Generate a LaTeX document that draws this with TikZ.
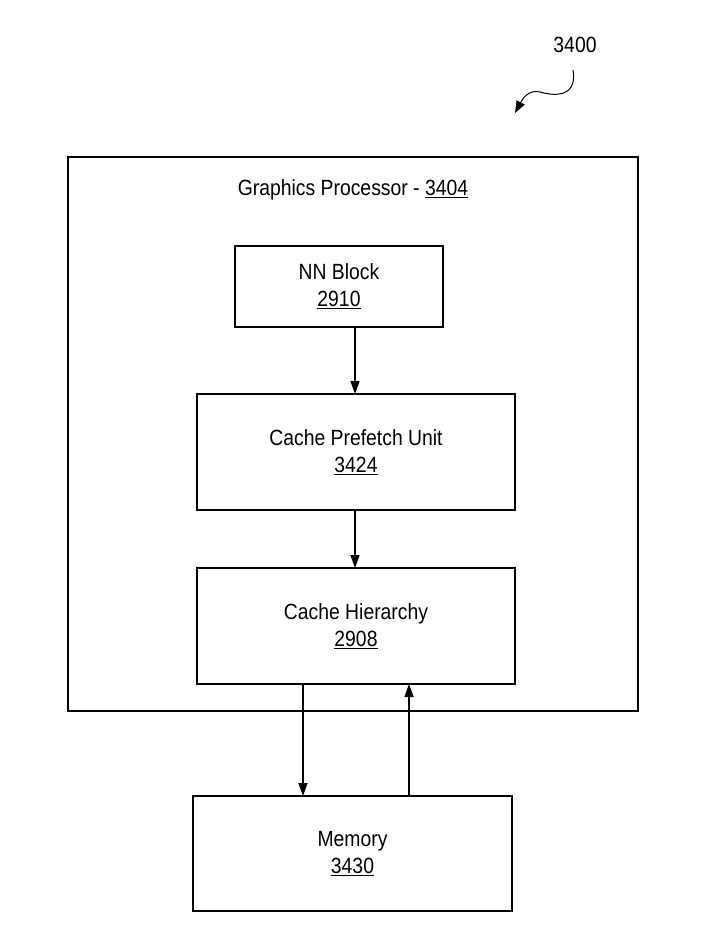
\documentclass[tikz,border=0pt]{standalone}
\usepackage{fontspec}
\setmainfont{Liberation Sans}[FakeStretch=0.88]
\usetikzlibrary{arrows.meta}
\begin{document}
\begin{tikzpicture}[x=1pt,y=-1pt,
  box/.style={draw,line width=1.3pt,inner sep=0pt,align=center,font=\fontsize{22}{27}\selectfont},
  arr/.style={line width=1.3pt,-{Triangle[length=13pt,width=9pt]}}]
\useasboundingbox (0,0) rectangle (701,937);
\node[draw,line width=1.3pt,minimum width=570pt,minimum height=554pt,inner sep=0pt] (gp) at (353,434) {};
\node[font=\fontsize{22}{27}\selectfont] (gpl) at (353,190) {Graphics Processor - \underline{3404}};
\node[box,minimum width=208pt,minimum height=81pt] (nn) at (339,286.5) {NN Block\\\underline{2910}};
\node[box,minimum width=318pt,minimum height=116pt] (cpu) at (356,452) {Cache Prefetch Unit\\\underline{3424}};
\node[box,minimum width=318pt,minimum height=116pt] (ch) at (356,626) {Cache Hierarchy\\\underline{2908}};
\node[box,minimum width=319pt,minimum height=115pt] (mem) at (352.5,853.5) {Memory\\\underline{3430}};
\draw[arr] (355,327) -- (355,394);
\draw[arr] (355,510) -- (355,568);
\draw[arr] (303,684) -- (303,796);
\draw[arr] (409,796) -- (409,684);
\node[font=\fontsize{22}{27}\selectfont] (lab) at (575,45) {3400};
\coordinate (s) at (573,70);
\coordinate (e) at (515,113);
\draw[line width=1pt,-{Triangle[length=12pt,width=9pt]}] (s) .. controls (578,100) and (550,95) .. (540,92) .. controls (528,89) and (522,100) .. (e);
\end{tikzpicture}
\end{document}
